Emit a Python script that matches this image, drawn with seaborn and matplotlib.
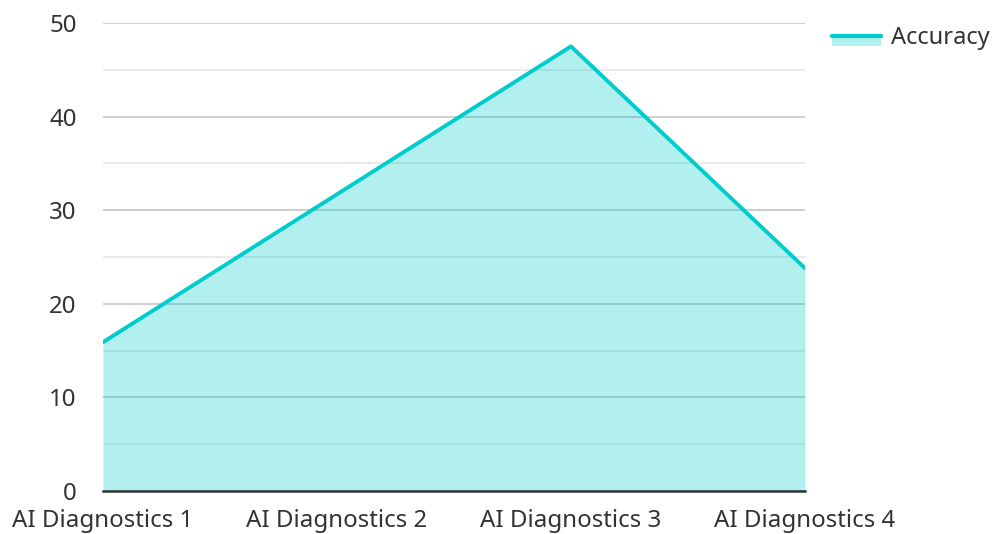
import matplotlib
matplotlib.use("Agg")
import matplotlib.pyplot as plt
import seaborn as sns
import pandas as pd
from matplotlib.patches import Rectangle
from matplotlib.lines import Line2D
from matplotlib.legend_handler import HandlerBase
from matplotlib.ticker import MultipleLocator

categories = ["AI Diagnostics 1", "AI Diagnostics 2", "AI Diagnostics 3", "AI Diagnostics 4"]
accuracy = [15.9, 31.7, 47.5, 23.8]
y_ticks = [0, 10, 20, 30, 40, 50]

sns.set_theme(style="white")
plt.rcParams['font.family'] = ['Noto Sans', 'DejaVu Sans']

df = pd.DataFrame({"category": categories, "Accuracy": accuracy, "x": range(len(categories))})

line_color = "#00cccc"
fill_alpha = 0.3


class AreaHandler(HandlerBase):
    def create_artists(self, legend, orig_handle, xdescent, ydescent, width, height, fontsize, trans):
        top = -ydescent + height * 0.5
        rect = Rectangle((-xdescent, top - height * 0.62), width, height * 0.62, facecolor=line_color,
                         alpha=fill_alpha, edgecolor="none", transform=trans)
        ln = Line2D([-xdescent, -xdescent + width], [top, top],
                    color=line_color, linewidth=3, transform=trans)
        return [rect, ln]


fig = plt.figure(figsize=(9.95, 5.34), dpi=100)
ax = fig.add_axes([103/995, 43/534, 702/995, 468/534])

ax.fill_between(df["x"], df["Accuracy"], 0, color=line_color, alpha=fill_alpha, linewidth=0, zorder=3)
sns.lineplot(data=df, x="x", y="Accuracy", ax=ax, color=line_color, linewidth=2.8, zorder=4)

ax.set_xlim(0, len(categories) - 1)
ax.set_ylim(0, 50)
ax.set_xticks(list(df["x"]))
ax.set_xticklabels(categories)
ax.set_yticks(y_ticks)
ax.yaxis.set_minor_locator(MultipleLocator(5))
ax.set_axisbelow(True)
ax.grid(True, which="major", axis="y", color="#c6c6c6", linewidth=1.2)
ax.grid(True, which="minor", axis="y", color="#e6e6e6", linewidth=1.2)
for s in ["top", "right", "left"]:
    ax.spines[s].set_visible(False)
ax.spines["bottom"].set_color("#333333")
ax.spines["bottom"].set_linewidth(1.8)
ax.spines["bottom"].set_zorder(5)
ax.tick_params(axis="both", which="both", length=0, labelsize=17.3, colors="#333333")
ax.tick_params(axis="y", pad=19)
ax.tick_params(axis="x", pad=13)
ax.set_xlabel("")
ax.set_ylabel("")

ax.legend([object()], ["Accuracy"], handler_map={object: AreaHandler()},
          loc="upper left", bbox_to_anchor=(1.008, 1.038), frameon=False,
          fontsize=17, handlelength=2.1, handletextpad=0.42, labelcolor="#333333")

fig.savefig("out.png", dpi=100)
